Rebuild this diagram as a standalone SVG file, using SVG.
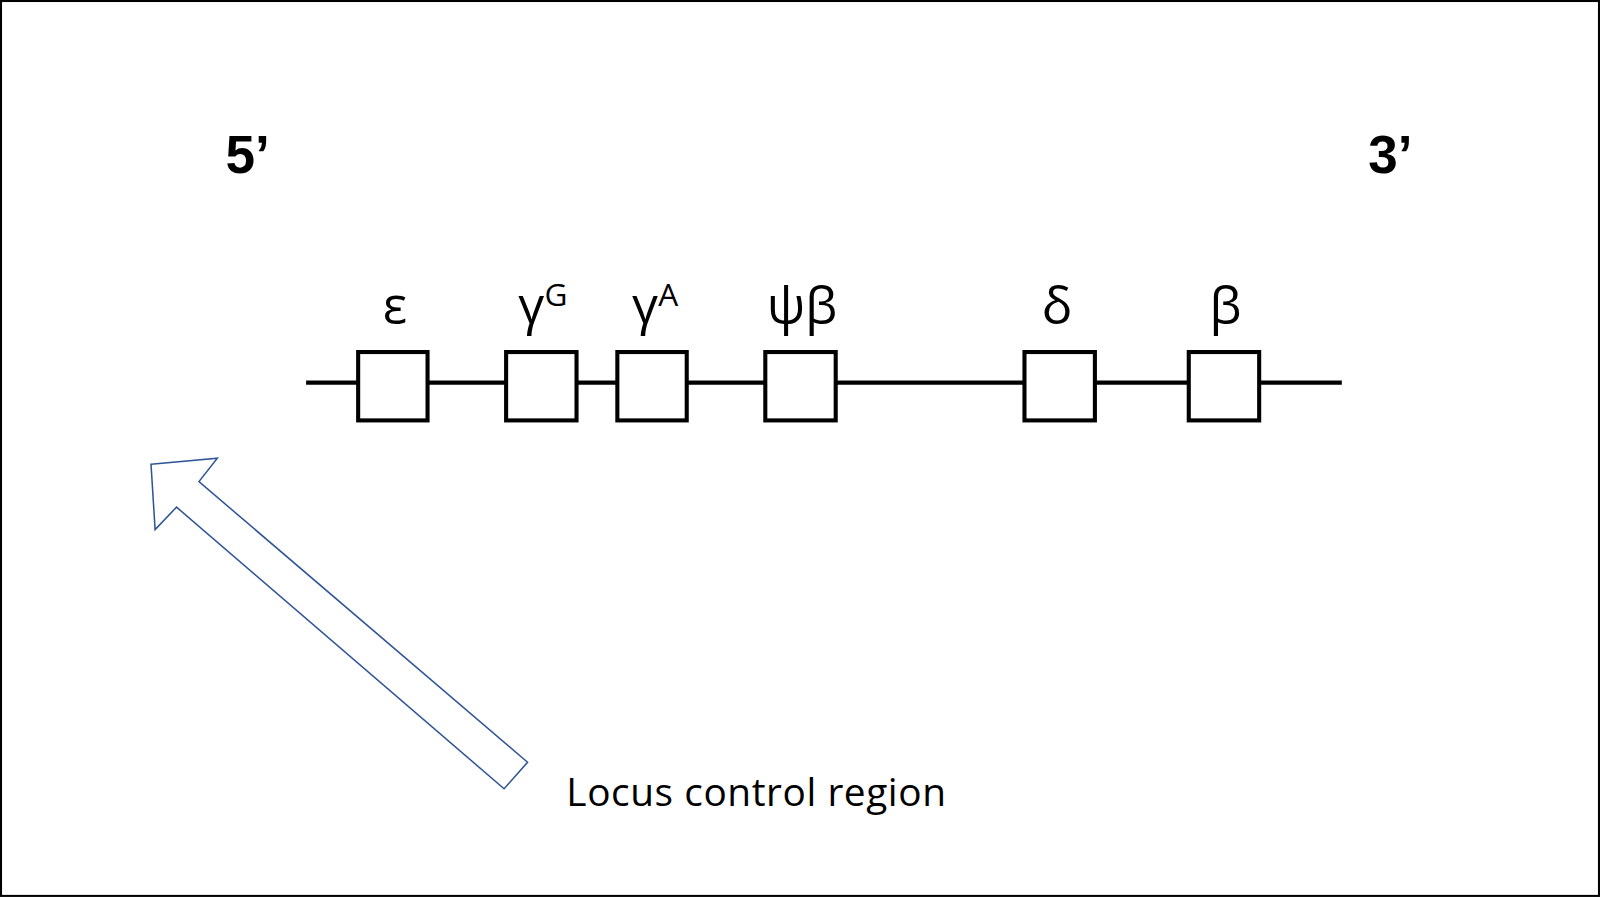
<svg xmlns="http://www.w3.org/2000/svg" width="1600" height="897" viewBox="0 0 1600 897">
<style>
.box{fill:#fff;stroke:#000;stroke-width:4}
.lbl{font-family:"Open Sans","Liberation Sans",sans-serif;font-size:50px;fill:#000;text-anchor:middle}
.sup{font-size:31px}
.end{font-family:"Liberation Sans",sans-serif;font-weight:bold;font-size:52px;fill:#000}
</style>
<rect x="0" y="0" width="1600" height="897" fill="#fff"/>
<g transform="scale(1.0204)">
<rect x="1" y="1" width="1566" height="877" fill="none" stroke="#000" stroke-width="2"/>
<g id="connectors"><line x1="300" y1="375" x2="1315" y2="375" stroke="#000" stroke-width="4"/></g>
<g id="end5"><text class="end" x="221" y="170">5’</text></g>
<g id="end3"><text class="end" x="1341" y="170">3’</text></g>
<g id="epsilon"><rect class="box" x="351" y="345" width="68" height="67"/><text class="lbl" x="387" y="318">ε</text></g>
<g id="gammaG"><rect class="box" x="496" y="345" width="69" height="67"/><text class="lbl" x="532" y="318">γ<tspan class="sup" dy="-18">G</tspan></text></g>
<g id="gammaA"><rect class="box" x="605" y="345" width="68" height="67"/><text class="lbl" x="642" y="318">γ<tspan class="sup" dy="-18">A</tspan></text></g>
<g id="psibeta"><rect class="box" x="750" y="345" width="69" height="67"/><text class="lbl" x="786" y="318">ψβ</text></g>
<g id="delta"><rect class="box" x="1004" y="345" width="69" height="67"/><text class="lbl" x="1036" y="318">δ</text></g>
<g id="beta"><rect class="box" x="1165" y="345" width="69" height="67"/><text class="lbl" x="1201" y="318">β</text></g>
<g id="lcr">
<polygon points="148,455 213,449 195,472 517,747 494,773 173,497 152,519" fill="#fff" stroke="#2F5597" stroke-width="1.5"/>
<text x="555" y="790" font-family="Open Sans,Liberation Sans,sans-serif" font-size="38" textLength="372" fill="#000">Locus control region</text>
</g>
</g>
</svg>
